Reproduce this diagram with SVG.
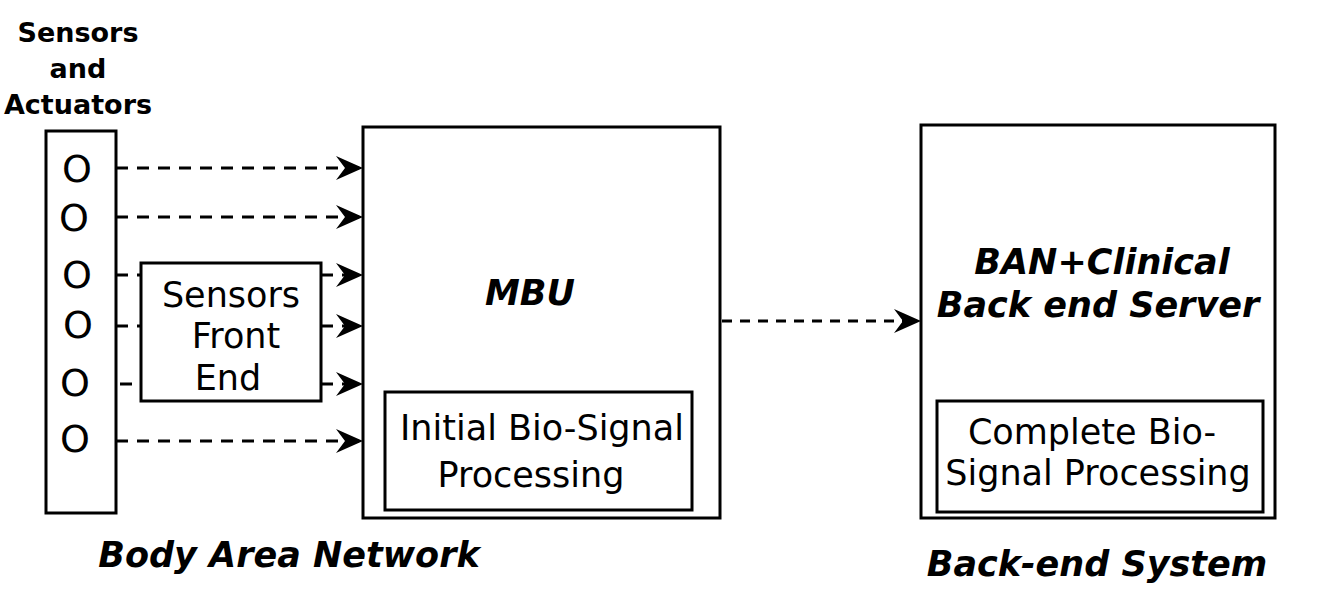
<svg xmlns="http://www.w3.org/2000/svg" width="1321" height="598" viewBox="0 0 1321 598">
<style>
.b{fill:#fff;stroke:#000;stroke-width:3}
.t{font-family:"DejaVu Sans",sans-serif;font-size:35px;fill:#000;text-anchor:middle}
.o{font-family:"DejaVu Sans",sans-serif;font-size:38px;fill:#000;text-anchor:middle}
.bi{font-family:"DejaVu Sans",sans-serif;font-size:35px;font-weight:bold;font-style:italic;text-anchor:middle}
.h{font-family:"DejaVu Sans",sans-serif;font-size:27px;font-weight:bold;text-anchor:middle}
.c{stroke:#000;stroke-width:3;stroke-dasharray:12 9;fill:none}
</style>
<defs><marker id="a" markerWidth="9" markerHeight="8" refX="8" refY="4" orient="auto" markerUnits="strokeWidth"><path d="M0,0 L9,4 L0,8 L3,4 Z" fill="#000"/></marker></defs>
<text class="h" x="78" y="42">Sensors</text>
<text class="h" x="78" y="78">and</text>
<text class="h" x="78" y="114">Actuators</text>
<g id="sensors"><rect class="b" x="46" y="131" width="70" height="382"/>
<text class="o" x="77" y="182">O</text><text class="o" x="74" y="231">O</text><text class="o" x="77" y="288">O</text><text class="o" x="78" y="338">O</text><text class="o" x="75" y="396">O</text><text class="o" x="75" y="452">O</text></g>
<g id="connectors">
<path class="c" d="M116 168H360" marker-end="url(#a)"/>
<path class="c" d="M116 217H360" marker-end="url(#a)"/>
<path class="c" d="M116 275H141M321 275H360" marker-end="url(#a)"/>
<path class="c" d="M116 326H141M321 326H360" marker-end="url(#a)"/>
<path class="c" d="M120 384H135M321 384H360" marker-end="url(#a)"/>
<path class="c" d="M116 441H360" marker-end="url(#a)"/>
<path class="c" d="M722 321H918" stroke-width="1.5" marker-end="url(#a)" style="stroke-dasharray:10 8"/>
</g>
<g id="front"><rect class="b" x="141" y="263" width="180" height="138"/>
<text class="t" x="231" y="307">Sensors</text><text class="t" x="236" y="348">Front</text><text class="t" x="228" y="390">End</text></g>
<g id="mbu"><rect class="b" x="363" y="127" width="357" height="391"/>
<text class="bi" x="530" y="305">MBU</text>
<rect class="b" x="385" y="392" width="307" height="118"/>
<text class="t" x="542" y="440">Initial Bio-Signal</text><text class="t" x="531" y="487">Processing</text></g>
<g id="backend"><rect class="b" x="921" y="125" width="354" height="393"/>
<text class="bi" x="1102" y="274">BAN+Clinical</text><text class="bi" x="1098" y="317">Back end Server</text>
<rect class="b" x="937" y="401" width="326" height="111"/>
<text class="t" x="1092" y="444">Complete Bio-</text><text class="t" x="1098" y="485">Signal Processing</text></g>
<text class="bi" x="289" y="567" font-size="30">Body Area Network</text>
<text class="bi" x="1097" y="576" font-size="30">Back-end System</text>
</svg>
